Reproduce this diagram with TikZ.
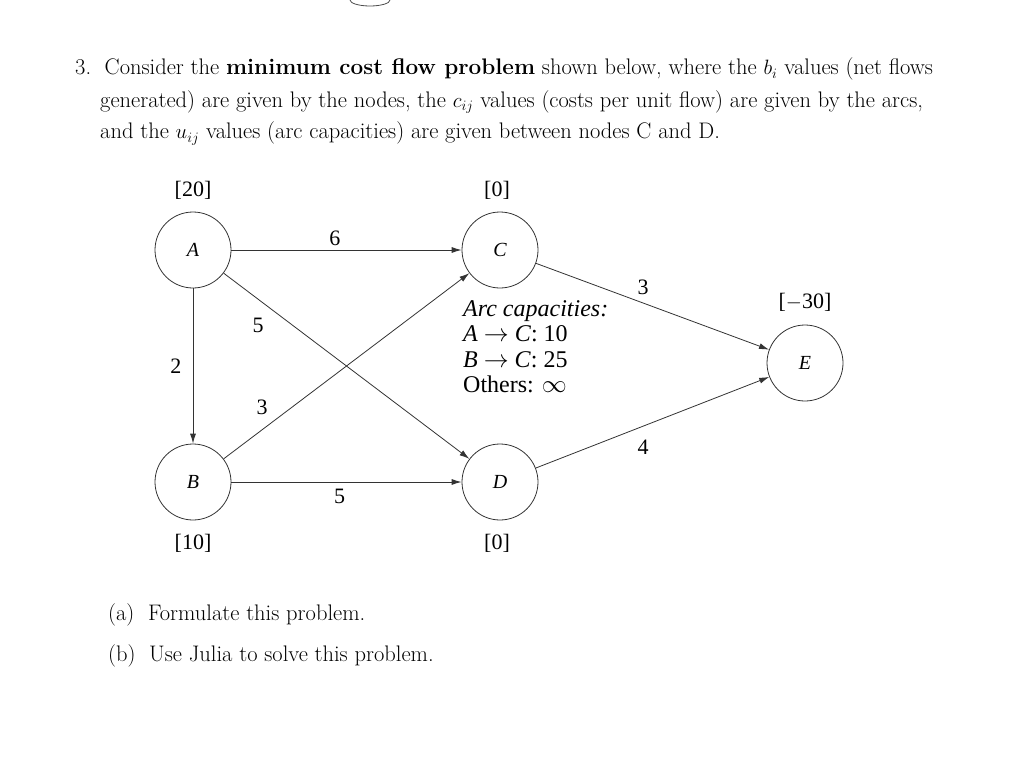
\documentclass[tikz,border=0pt]{standalone}
\usepackage{fontspec}
\usetikzlibrary{arrows.meta}
\newfontfamily\tnr{Liberation Serif}
\begin{document}
\begin{tikzpicture}[x=1pt,y=-1pt,
  nd/.style={circle,draw=black!80,thick,minimum size=76pt,inner sep=0pt,font=\tnr\fontsize{20}{20}\selectfont\itshape},
  lb/.style={font=\tnr\fontsize{22}{22}\selectfont},
  txt/.style={anchor=base west,inner sep=0pt,font=\fontsize{22.5}{24}\selectfont},
  arc/.style={draw=black!80,thick,-{Latex[length=10pt,width=6pt]}}]
\useasboundingbox (0,0) rectangle (1024,757);
\draw[black!70,thick] (350,0) arc[start angle=180,end angle=0,x radius=20,y radius=6];
\node[txt] (l1) at (75,75) {3.\ \ Consider the \textbf{minimum cost flow problem} shown below, where the $b_i$ values (net flows};
\node[txt] (l2) at (100,107) {generated) are given by the nodes, the $c_{ij}$ values (costs per unit flow) are given by the arcs,};
\node[txt] (l3) at (100,139) {and the $u_{ij}$ values (arc capacities) are given between nodes C and D.};
\node[nd] (A) at (193,250) {A};
\node[nd] (C) at (500,250) {C};
\node[nd] (B) at (193,482) {B};
\node[nd] (D) at (500,482) {D};
\node[nd] (E) at (805,363) {E};
\node[lb] (bA) at (193,190) {[20]};
\node[lb] (bC) at (497,190) {[0]};
\node[lb] (bB) at (193,543) {[10]};
\node[lb] (bD) at (497,543) {[0]};
\node[lb] (bE) at (805,302) {[$-$30]};
\draw[arc] (A) -- node[lb,pos=0.45,above=1pt] {6} (C);
\draw[arc] (A) -- node[lb,left=8pt] {2} (B);
\draw[arc] (A) -- (D);
\draw[arc] (B) -- (C);
\draw[arc] (B) -- node[lb,pos=0.47,below=3pt] {5} (D);
\draw[arc] (C) -- (E);
\draw[arc] (D) -- (E);
\node[lb] (c5) at (258,325) {5};
\node[lb] (c3) at (262,407) {3};
\node[lb] (c3b) at (643,287) {3};
\node[lb] (c4) at (643,447) {4};
\node[anchor=north west,align=left,inner sep=0pt,font=\tnr\fontsize{24}{25.5}\selectfont] (cap) at (463,300)
 {\textit{Arc capacities:}\\\textit{A} $\rightarrow$ \textit{C}: 10\\\textit{B} $\rightarrow$ \textit{C}: 25\\Others: $\infty$};
\node[txt] (qa) at (108,620) {(a)\ \ Formulate this problem.};
\node[txt] (qb) at (108,661) {(b)\ \ Use Julia to solve this problem.};
\end{tikzpicture}
\end{document}
